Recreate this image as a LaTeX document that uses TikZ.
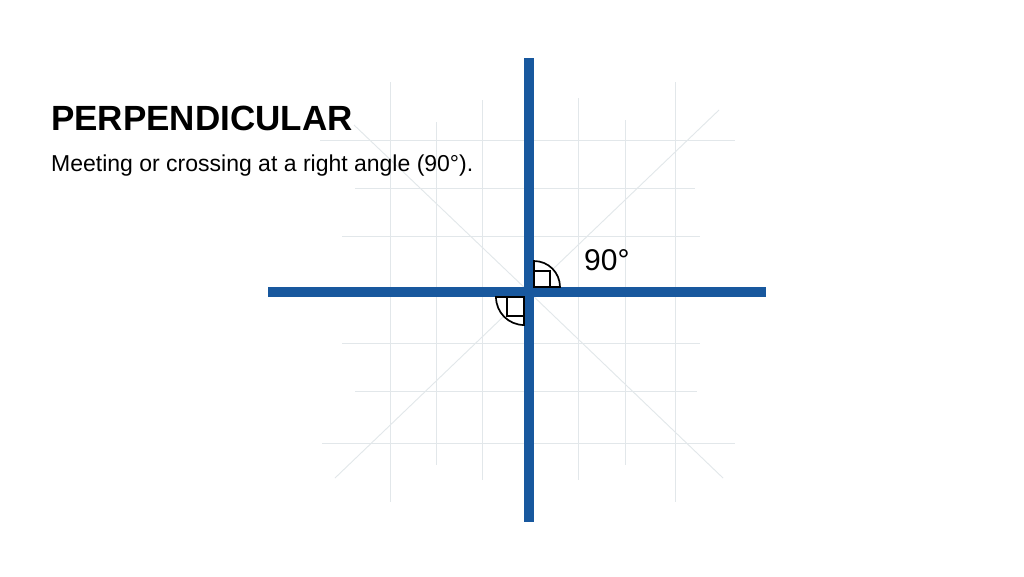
\documentclass[tikz,border=0pt]{standalone}
\usepackage{fontspec}
\setmainfont{Liberation Sans}
\definecolor{axisblue}{RGB}{24,88,158}
\definecolor{gridgray}{RGB}{226,231,234}
\begin{document}
\begin{tikzpicture}[x=1pt,y=-1pt,
  gridline/.style={draw=gridgray,line width=1pt},
  diagline/.style={draw=gridgray,line width=0.9pt},
  axisline/.style={draw=axisblue,line width=10pt},
  anglemark/.style={draw=black,line width=1.7pt,fill=white,line join=miter},
  anglesq/.style={draw=black,line width=1.7pt},
  titletext/.style={anchor=base west,inner sep=0pt,font=\fontsize{35}{40}\selectfont\bfseries},
  subtext/.style={anchor=base west,inner sep=0pt,font=\fontsize{23}{28}\selectfont},
  degtext/.style={anchor=base west,inner sep=0pt,font=\fontsize{30}{34}\selectfont}]
\useasboundingbox[fill=white] (0,0) rectangle (1024,576);
% grid: vertical lines
\draw[gridline] (390,82) -- (390,502);
\draw[gridline] (436,122) -- (436,465);
\draw[gridline] (482,100) -- (482,480);
\draw[gridline] (578,98) -- (578,480);
\draw[gridline] (625,120) -- (625,465);
\draw[gridline] (675,82) -- (675,502);
% grid: horizontal lines
\draw[gridline] (320,140) -- (735,140);
\draw[gridline] (355,188) -- (695,188);
\draw[gridline] (342,236) -- (700,236);
\draw[gridline] (342,343) -- (700,343);
\draw[gridline] (355,391) -- (697,391);
\draw[gridline] (322,443) -- (735,443);
% diagonals
\coordinate (O) at (529,292);
\coordinate (dUL) at (354,125);
\coordinate (dUR) at (719,110);
\coordinate (dLR) at (723,478);
\coordinate (dLL) at (335,478);
\draw[diagline] (dUL) -- (O) -- (dLR);
\draw[diagline] (dLL) -- (O) -- (dUR);
% axes
\coordinate (vtop) at (529,58);
\coordinate (vbot) at (529,522);
\coordinate (hl) at (268,292);
\coordinate (hr) at (766,292);
\draw[axisline] (vtop) -- (vbot);
\draw[axisline] (hl) -- (hr);
% right-angle marks
\coordinate (cUR) at (534,287);
\coordinate (cLL) at (524,297);
\draw[anglemark] (cUR) -- (560,287) arc[start angle=0,end angle=-90,radius=26] -- cycle;
\draw[anglesq] (534,271) -- (550,271) -- (550,287);
\draw[anglemark] (cLL) -- (496,297) arc[start angle=180,end angle=90,radius=28] -- cycle;
\draw[anglesq] (507,297) -- (507,316) -- (524,316);
% texts
\node[titletext] (title) at (51,130) {PERPENDICULAR};
\node[subtext] (sub) at (51,171) {Meeting or crossing at a right angle (90°).};
\node[degtext] (deg) at (584,270) {90°};
\end{tikzpicture}
\end{document}
